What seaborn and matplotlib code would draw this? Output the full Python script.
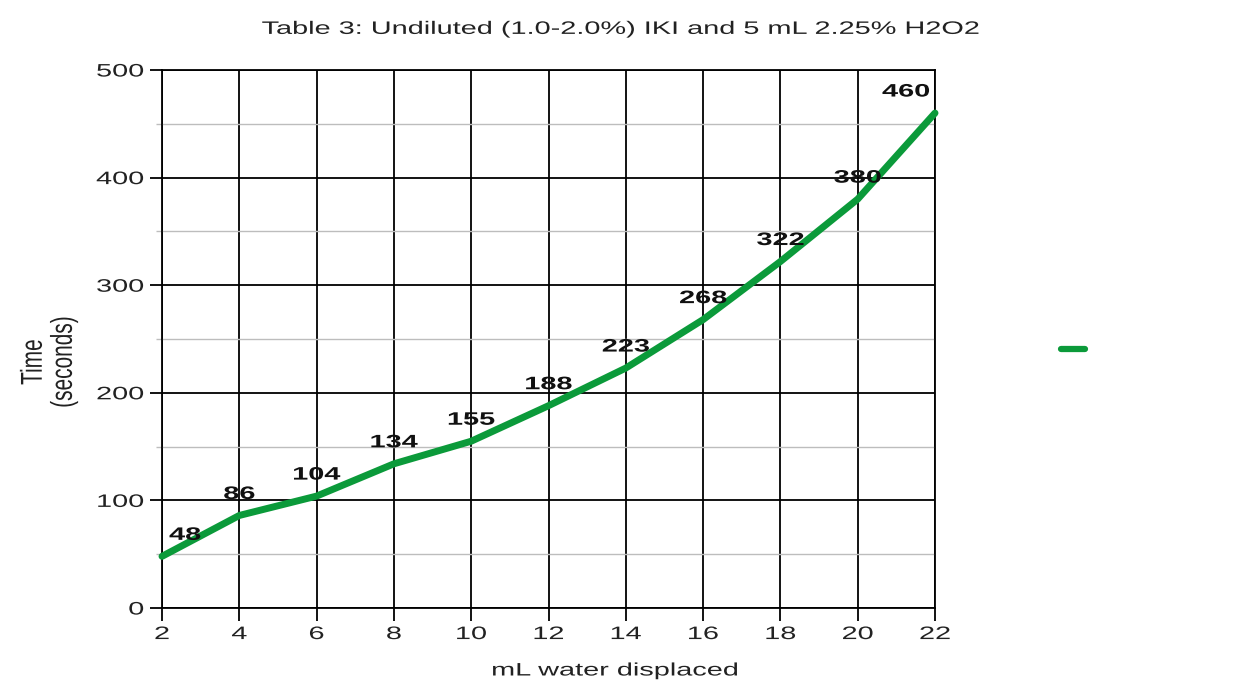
import matplotlib
matplotlib.use("Agg")
import matplotlib.pyplot as plt
from matplotlib.lines import Line2D
from matplotlib.ticker import MultipleLocator
from matplotlib.patheffects import AbstractPathEffect
from matplotlib.transforms import Affine2D
import seaborn as sns
import pandas as pd

ml_displaced = [2, 4, 6, 8, 10, 12, 14, 16, 18, 20, 22]
time_seconds = [48, 86, 104, 134, 155, 188, 223, 268, 322, 380, 460]
x_ticks = [2, 4, 6, 8, 10, 12, 14, 16, 18, 20, 22]
y_ticks = [0, 100, 200, 300, 400, 500]
title = "Table 3: Undiluted (1.0-2.0%) IKI and 5 mL 2.25% H2O2"


class HStretch(AbstractPathEffect):
    """Widen glyphs horizontally (the reference text looks stretched)."""
    def __init__(self, sx=1.6, anchor="center"):
        super().__init__()
        self.sx = sx
        self.anchor = anchor

    def draw_path(self, renderer, gc, tpath, affine, rgbFace=None):
        ext = tpath.get_extents(affine)
        if self.anchor == "right":
            cx = ext.x1
        elif self.anchor == "left":
            cx = ext.x0
        else:
            cx = 0.5 * (ext.x0 + ext.x1)
        t = affine + Affine2D().translate(-cx, 0).scale(self.sx, 1.0).translate(cx, 0)
        renderer.draw_path(gc, tpath, t, rgbFace)


SX = 1.6
df = pd.DataFrame({"ml": ml_displaced, "time": time_seconds})

sns.set_theme(style="white")
plt.rcParams['font.family'] = ['Liberation Sans', 'DejaVu Sans']

fig = plt.figure(figsize=(12.34, 6.9), dpi=100)
ax = fig.add_axes([162/1234, 1-608/690, (935-162)/1234, (608-70)/690])

green = "#0b9a3a"
sns.lineplot(data=df, x="ml", y="time", ax=ax, color=green, linewidth=5,
             solid_capstyle="round", solid_joinstyle="round", zorder=5, clip_on=False)

ax.set_xlim(2, 22)
ax.set_ylim(0, 500)
ax.set_xticks(x_ticks)
ax.set_yticks(y_ticks)
ax.yaxis.set_minor_locator(MultipleLocator(50))
ax.grid(True, which="major", color="black", linewidth=1.3, zorder=1)
ax.grid(True, which="minor", axis="y", color="#bdbdbd", linewidth=1.0, zorder=0)
ax.set_axisbelow(True)
for s in ax.spines.values():
    s.set_color("black")
    s.set_linewidth(1.3)
ax.tick_params(axis="both", which="major", direction="out", length=9, width=1.3,
               color="black", labelsize=13, labelcolor="#222222", pad=4,
               bottom=True, left=True)
ax.tick_params(axis="y", which="minor", left=True, length=4, width=1.0, color="#bdbdbd")

ax.set_xlabel("mL water displaced", fontsize=13, color="#222222", labelpad=14,
              path_effects=[HStretch(SX)])
ax.xaxis.label.set_x((615-162)/773)
ax.set_ylabel("Time\n(seconds)", fontsize=15, color="#222222", labelpad=29,
              linespacing=1.8, path_effects=[HStretch(1.45)])
ax.yaxis.label.set_y((608-362)/538)
ax.set_title(title, fontsize=13, color="#222222", pad=26, path_effects=[HStretch(SX)])
ax.title.set_x((620-162)/773)

for lab in ax.get_xticklabels():
    lab.set_path_effects([HStretch(SX)])
for lab in ax.get_yticklabels():
    lab.set_path_effects([HStretch(SX, "right")])

n = len(ml_displaced)
for i, (xv, yv) in enumerate(zip(ml_displaced, time_seconds)):
    dx = 0
    if i == 0:
        dx = 23
    elif i == n - 1:
        dx = -29
    ax.annotate(str(yv), (xv, yv), xytext=(dx, 16.5), textcoords="offset pixels",
                ha="center", va="baseline", fontsize=13, fontweight="bold",
                color="#111111", zorder=6, annotation_clip=False,
                path_effects=[HStretch(SX)])

handle = Line2D([], [], color=green, linewidth=4.5, solid_capstyle="round")
fig.legend([handle], [""], loc="center", bbox_to_anchor=(1073/1234, 1-350/690),
           frameon=False, handlelength=1.6, handletextpad=0.0)

fig.savefig("out.png", dpi=100)
